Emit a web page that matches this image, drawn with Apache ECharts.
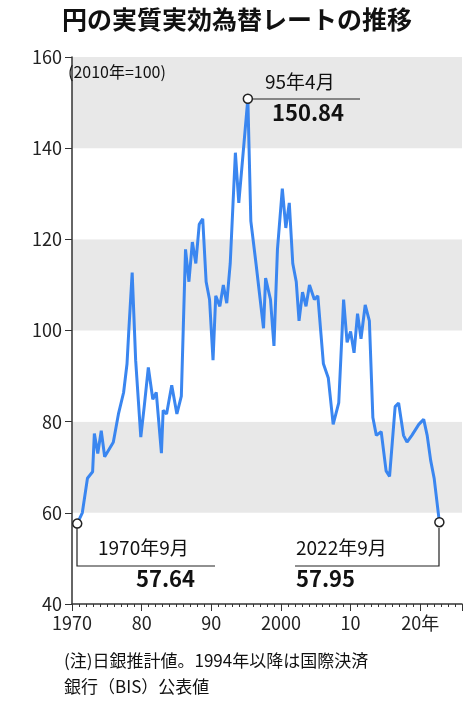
<!DOCTYPE html>
<html lang="ja">
<head>
<meta charset="utf-8" />
<script src="https://cdn.jsdelivr.net/npm/echarts@6/dist/echarts.min.js"></script>
<style>html,body{margin:0;padding:0;background:#fff}#c{width:474px;height:715px}</style>
</head>
<body>
<div id="c"></div>
<script>
// 年（小数）と指数（2010年=100）
var years = [1970.75, 1971.48, 1972.22, 1972.96, 1973.21, 1973.70, 1974.20, 1974.69, 1975.93, 1976.67,
    1977.41, 1977.90, 1978.15, 1978.64, 1979.14, 1979.88, 1980.37, 1980.96, 1981.60, 1982.10,
    1982.84, 1983.09, 1983.58, 1984.32, 1985.06, 1985.70, 1986.30, 1986.79, 1987.28, 1987.78,
    1988.27, 1988.77, 1989.26, 1989.75, 1990.25, 1990.64, 1991.23, 1991.73, 1992.22, 1992.72,
    1993.46, 1993.95, 1994.44, 1995.25, 1995.68, 1996.42, 1997.5, 1997.8, 1998.5, 1999.0,
    1999.5, 2000.2, 2000.7, 2001.2, 2001.7, 2002.2, 2002.6, 2003.1, 2003.6, 2004.1,
    2004.8, 2005.3, 2006.1, 2006.8, 2007.5, 2008.3, 2009.0, 2009.5, 2010.0, 2010.5,
    2011.0, 2011.5, 2012.1, 2012.7, 2013.2, 2013.7, 2014.4, 2015.1, 2015.6, 2016.4,
    2016.9, 2017.6, 2018.1, 2018.8, 2019.8, 2020.5, 2021.0, 2021.5, 2022.0, 2022.75];
var values = [57.64, 60, 67.6, 69, 77.4, 73, 78, 72.3, 75.5, 81.7,
    86.4, 92.7, 99.8, 112.7, 93.5, 76.6, 83.3, 91.9, 84.9, 86.4,
    73.1, 82.5, 81.7, 88, 81.7, 85.6, 117.8, 110.7, 119.4, 114.7,
    123.3, 124.5, 110.7, 106.8, 93.5, 107.6, 105.3, 110, 106, 114.7,
    139, 128, 136.6, 150.84, 124, 114.7, 100.5, 111.5, 106.8, 96.6,
    117.8, 131.1, 122.5, 128, 114.7, 110.7, 102.1, 108.4, 105.3, 110,
    106.8, 107.6, 92.7, 89.6, 79.4, 84.1, 106.8, 97.4, 99.8, 95.1,
    103.7, 98.2, 105.6, 102.1, 80.9, 77, 77.8, 69.2, 68, 83.3,
    84.1, 77, 75.5, 77, 79.4, 80.5, 77, 71.5, 67.6, 57.95];
var yearLabels = {1970: '1970', 1980: '80', 1990: '90', 2000: '2000', 2010: '10', 2020: '20年'};

var seriesData = years.map(function (y, i) { return [y, values[i]]; });
var font = '"Noto Sans CJK JP", sans-serif';
var lineColor = '#3a86f0';

function label(x, y, text, size, bold) {
    return {
        type: 'text', x: x, y: y, z: 100,
        style: { text: text, fontSize: size, fontWeight: bold ? 'bold' : 'normal', fill: '#111', fontFamily: font }
    };
}
function rule(points) {
    return { type: 'polyline', z: 100, shape: { points: points }, style: { stroke: '#222', lineWidth: 1.2, fill: 'none' } };
}

var chart = echarts.init(document.getElementById('c'));
chart.setOption({
    animation: false,
    textStyle: { fontFamily: font },
    title: {
        text: '円の実質実効為替レートの推移',
        left: 'center', top: 2,
        textStyle: { fontSize: 25, fontWeight: 'bold', color: '#111', fontFamily: font }
    },
    grid: { left: 72, right: 12, top: 57, bottom: 111 },
    xAxis: {
        type: 'value', min: 1970, max: 2026, interval: 10,
        axisLine: { lineStyle: { color: '#333', width: 1.5 } },
        axisTick: { length: 7, lineStyle: { color: '#333' } },
        minorTick: { show: true, splitNumber: 10, length: 3, lineStyle: { color: '#333' } },
        splitLine: { show: false },
        axisLabel: {
            fontSize: 18, color: '#222', margin: 10, fontFamily: font,
            formatter: function (v) { return yearLabels[v] || ''; }
        }
    },
    yAxis: {
        type: 'value', min: 40, max: 160, interval: 20,
        axisLine: { show: true, lineStyle: { color: '#333', width: 1.5 } },
        axisTick: { show: true, length: 7, lineStyle: { color: '#333' } },
        splitLine: { show: false },
        splitArea: { show: true, areaStyle: { color: ['#ffffff', '#e8e8e8'] } },
        axisLabel: { fontSize: 18, color: '#222', margin: 10, fontFamily: font }
    },
    series: [{
        type: 'line',
        data: seriesData,
        showSymbol: false,
        lineStyle: { color: lineColor, width: 3 },
        markPoint: {
            symbol: 'circle', symbolSize: 9,
            itemStyle: { color: '#fff', borderColor: '#222', borderWidth: 1.5 },
            label: { show: false },
            data: [{ coord: [1970.75, 57.64] }, { coord: [1995.25, 150.84] }, { coord: [2022.75, 57.95] }]
        }
    }],
    graphic: [
        label(68, 64, '(2010年=100)', 16, false),
        rule([[252, 99], [360, 99]]),
        label(265, 72, '95年4月', 19, false),
        label(272, 102, '150.84', 22, true),
        rule([[77, 62 + 466], [77, 566], [215, 566]]),
        label(98, 538, '1970年9月', 19, false),
        label(136, 568, '57.64', 22, true),
        rule([[439, 528], [439, 566], [295, 566]]),
        label(296, 538, '2022年9月', 19, false),
        label(296, 568, '57.95', 22, true),
        label(64, 652, '(注)日銀推計値。1994年以降は国際決済', 17, false),
        label(64, 678, '銀行（BIS）公表値', 17, false)
    ]
});
</script>
</body>
</html>
